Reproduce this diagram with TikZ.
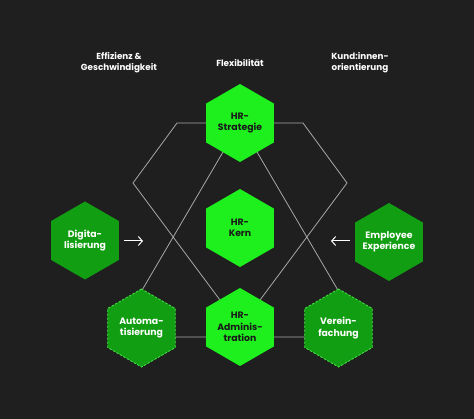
\documentclass[tikz,border=0pt]{standalone}
\usepackage{fontspec}
\setmainfont{Poppins}
\usetikzlibrary{shapes.geometric,arrows.meta}
\definecolor{bg}{HTML}{1F1F1F}
\definecolor{brightgreen}{HTML}{1EF01E}
\definecolor{darkgreen}{HTML}{129E12}
\definecolor{dashgreen}{HTML}{44DD44}
\definecolor{linegray}{HTML}{A8A8A8}
\definecolor{textdark}{HTML}{1A1A1A}
\tikzset{
  hexbase/.style={regular polygon, regular polygon sides=6, shape border rotate=30,
    minimum size=78pt, inner sep=-8pt, align=center,
    font=\fontsize{9.3}{11.5}\selectfont\bfseries},
  corehex/.style={hexbase, fill=brightgreen, text=textdark},
  sidehex/.style={hexbase, fill=darkgreen, text=white},
  dashhex/.style={hexbase, fill=darkgreen, text=white, draw=dashgreen, line width=0.9pt, dash pattern=on 2.5pt off 1.5pt},
  header/.style={align=center, text=white, font=\fontsize{8.8}{11}\selectfont\bfseries},
  gridline/.style={draw=linegray, line width=0.8pt, line join=miter},
  flowarrow/.style={draw=white, line width=1pt, -{Straight Barb[length=4pt,width=9pt]}}
}
\begin{document}
\begin{tikzpicture}[x=1pt,y=-1pt]
\fill[bg] (0,0) rectangle (474,419);
\useasboundingbox (0,0) rectangle (474,419);

% geometric background figure
\coordinate (ps) at (240,123);
\coordinate (pl1) at (177,123);
\coordinate (pl2) at (133,183);
\coordinate (pb) at (240,327);
\coordinate (pr2) at (347,183);
\coordinate (pr1) at (303,123);
\coordinate (tl) at (114.6,337);
\coordinate (tr) at (365.4,337);
\draw[gridline] (ps) -- (pl1) -- (pl2) -- (pb) -- (pr2) -- (pr1) -- cycle;
\draw[gridline] (ps) -- (tl) -- (tr) -- cycle;

% headers
\node[header] (h1) at (119,62.5) {Effizienz \&\\Geschwindigkeit};
\node[header] (h2) at (240,63) {Flexibilität};
\node[header] (h3) at (360,62.5) {Kund:innen-\\orientierung};

% hexagons
\node[corehex] (strat) at (240,123) {HR-\\Strategie};
\node[corehex] (kern) at (240,228) {HR-\\Kern};
\node[corehex] (admin) at (240,327) {HR-\\Adminis-\\tration};
\node[sidehex] (digi) at (85,240.5) {Digita-\\lisierung};
\node[sidehex] (emp) at (389,242) {Employee\\Experience};
\node[dashhex] (auto) at (141.5,328) {Automa-\\tisierung};
\node[dashhex] (vere) at (338.5,328) {Verein-\\fachung};

% arrows
\coordinate (a1s) at (124,241);
\coordinate (a1e) at (143,241);
\coordinate (a2s) at (350,241);
\coordinate (a2e) at (331,241);
\draw[flowarrow] (a1s) -- (a1e);
\draw[flowarrow] (a2s) -- (a2e);
\end{tikzpicture}
\end{document}
